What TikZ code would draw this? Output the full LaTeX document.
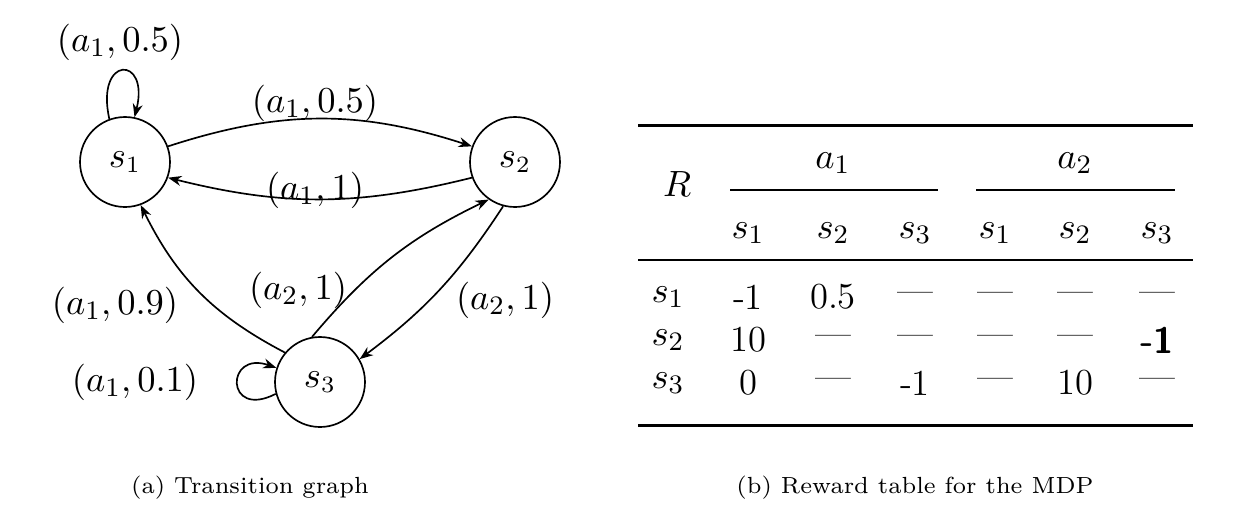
\documentclass[tikz,border=0pt]{standalone}
\usetikzlibrary{arrows.meta}
\begin{document}
\begin{tikzpicture}[x=0.3pt,y=-0.3pt,
  st/.style={draw,circle,line width=0.5pt,minimum size=27pt,inner sep=0pt,font=\fontsize{10.5}{12}\selectfont},
  lab/.style={font=\fontsize{11}{13}\selectfont,inner sep=1pt},
  tx/.style={font=\fontsize{11}{13}\selectfont,inner sep=0pt},
  captxt/.style={font=\fontsize{7}{9}\selectfont},
  ed/.style={-{Stealth[length=4pt,width=3pt]},line width=0.5pt}]
\useasboundingbox (0,0) rectangle (1246,520);
\node[st] (s1) at (125,162) {$s_1$};
\node[st] (s2) at (515,162) {$s_2$};
\node[st] (s3) at (320,382) {$s_3$};
\draw[ed] (s1.110) .. controls (95,55) and (150,55) .. (s1.78);
\node[lab] (l0) at (120,42) {$(a_1,0.5)$};
\draw[ed] (s1.20) to[bend left=18] (s2.160);
\node[lab] (l1) at (315,103) {$(a_1,0.5)$};
\draw[ed] (s2.200) to[bend left=14] (s1.340);
\node[lab] (l2) at (315,190) {$(a_1,1)$};
\draw[ed] (s3.140) to[bend left=18] (s1.290);
\node[lab] (l3) at (115,305) {$(a_1,0.9)$};
\draw[ed] (s3.100) to[bend left=12] (s2.235);
\node[lab] (l4) at (298,290) {$(a_2,1)$};
\draw[ed] (s2.255) to[bend left=10] (s3.30);
\node[lab] (l5) at (505,300) {$(a_2,1)$};
\draw[ed] (s3.195) .. controls (225,420) and (225,350) .. (s3.162);
\node[lab] (l6) at (135,382) {$(a_1,0.1)$};
\node[captxt] (ca) at (250,488) {(a) Transition graph};
% table
\draw[line width=0.9pt] (638,125) -- (1193,125);
\draw[line width=0.5pt] (730,190) -- (938,190);
\draw[line width=0.5pt] (976,190) -- (1175,190);
\draw[line width=0.5pt] (638,260) -- (1193,260);
\draw[line width=0.9pt] (638,425) -- (1193,425);
\node[tx] (R) at (677,184) {$R$};
\node[tx] (A1) at (833,163) {$a_1$};
\node[tx] (A2) at (1075,163) {$a_2$};
\foreach \x/\t [count=\i] in {748/s_1,833/s_2,915/s_3,995/s_1,1075/s_2,1157/s_3}
  \node[tx] (h\i) at (\x,233) {$\t$};
\foreach \y/\t [count=\i] in {297/s_1,340/s_2,383/s_3}
  \node[tx] (r\i) at (668,\y) {$\t$};
\foreach \x/\t [count=\j] in {748/-1,833/0.5,915/---,995/---,1075/---,1157/---}
  \node[tx] (c1\j) at (\x,297) {\t};
\foreach \x/\t [count=\j] in {748/10,833/---,915/---,995/---,1075/---}
  \node[tx] (c2\j) at (\x,340) {\t};
\node[tx] (c26) at (1157,340) {\sffamily\bfseries -1};
\foreach \x/\t [count=\j] in {748/0,833/---,915/-1,995/---,1075/10,1157/---}
  \node[tx] (c3\j) at (\x,383) {\t};
\node[captxt] (cb) at (915,488) {(b) Reward table for the MDP};
\end{tikzpicture}
\end{document}
